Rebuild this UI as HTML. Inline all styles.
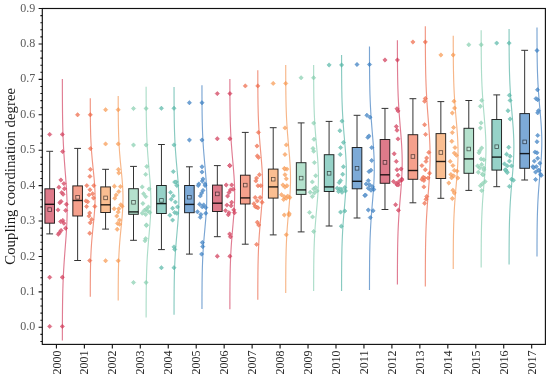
<!DOCTYPE html><html><head><meta charset="utf-8"><style>html,body{margin:0;padding:0;background:#fff;overflow:hidden}svg{display:block}</style></head><body><svg width="550" height="378" viewBox="0 0 550 378">
<rect width="550" height="378" fill="#fff"/>
<polyline points="62.36,78.90 62.37,83.26 62.37,87.62 62.38,91.98 62.40,96.34 62.42,100.70 62.45,105.06 62.48,109.42 62.53,113.78 62.59,118.14 62.67,122.50 62.76,126.86 62.88,131.22 63.02,135.58 63.19,139.94 63.39,144.30 63.61,148.66 63.87,153.02 64.15,157.38 64.46,161.74 64.78,166.10 65.12,170.46 65.46,174.82 65.79,179.18 66.11,183.54 66.40,187.90 66.65,192.26 66.86,196.62 67.02,200.98 67.12,205.34 67.15,209.70 67.12,214.06 67.02,218.42 66.86,222.78 66.65,227.14 66.40,231.50 66.11,235.86 65.79,240.22 65.46,244.58 65.12,248.94 64.78,253.30 64.46,257.66 64.15,262.02 63.87,266.38 63.61,270.74 63.39,275.10 63.19,279.46 63.02,283.82 62.88,288.18 62.76,292.54 62.67,296.90 62.59,301.26 62.53,305.62 62.48,309.98 62.45,314.34 62.42,318.70 62.40,323.06 62.38,327.42 62.37,331.78 62.37,336.14 62.36,340.50" fill="none" stroke="#d44a68" stroke-width="1.15" stroke-opacity="0.72"/>
<path d="M62.6 149.4L64.8 151.6L62.6 153.8L60.4 151.6ZM60.9 177.8L63.1 180.0L60.9 182.2L58.7 180.0ZM63.9 181.4L66.1 183.6L63.9 185.8L61.7 183.6ZM58.9 185.0L61.1 187.2L58.9 189.4L56.7 187.2ZM64.4 186.5L66.6 188.7L64.4 190.9L62.2 188.7ZM61.7 190.4L63.9 192.6L61.7 194.8L59.5 192.6ZM63.1 192.0L65.3 194.2L63.1 196.4L60.9 194.2ZM59.8 200.5L62.0 202.7L59.8 204.9L57.6 202.7ZM61.1 199.2L63.3 201.4L61.1 203.6L58.9 201.4ZM66.4 202.1L68.6 204.3L66.4 206.5L64.2 204.3ZM58.0 207.7L60.2 209.9L58.0 212.1L55.8 209.9ZM65.6 208.2L67.8 210.4L65.6 212.6L63.4 210.4ZM60.6 219.4L62.8 221.6L60.6 223.8L58.4 221.6ZM62.8 218.2L65.0 220.4L62.8 222.6L60.6 220.4ZM63.9 221.0L66.1 223.2L63.9 225.4L61.7 223.2ZM65.6 226.0L67.8 228.2L65.6 230.4L63.4 228.2ZM61.1 228.2L63.3 230.4L61.1 232.6L58.9 230.4ZM59.4 230.5L61.6 232.7L59.4 234.9L57.2 232.7ZM58.3 232.1L60.5 234.3L58.3 236.5L56.1 234.3ZM62.4 132.2L64.5 134.4L62.4 136.6L60.1 134.4ZM62.4 275.1L64.5 277.3L62.4 279.5L60.1 277.3ZM62.4 324.2L64.5 326.4L62.4 328.6L60.1 326.4Z" fill="#cf3050" fill-opacity="0.68" stroke="#cf3050" stroke-opacity="0.68" stroke-width="0.5"/>
<path d="M49.69 151.30V188.80M49.69 223.20V233.90M46.29 151.30H53.09M46.29 233.90H53.09" stroke="#333" stroke-width="1.0" fill="none"/>
<rect x="44.89" y="188.80" width="9.60" height="34.40" fill="#de7a8a" stroke="#000" stroke-opacity="0.82" stroke-width="1.0"/>
<path d="M44.89 204.30H54.49" stroke="#000" stroke-opacity="0.85" stroke-width="1.4"/>
<rect x="47.89" y="207.80" width="3.6" height="3.6" fill="#ffffff" fill-opacity="0.2" stroke="#000" stroke-opacity="0.62" stroke-width="0.8"/>
<path d="M49.7 132.2L51.9 134.4L49.7 136.6L47.5 134.4ZM49.7 275.1L51.9 277.3L49.7 279.5L47.5 277.3ZM49.7 324.2L51.9 326.4L49.7 328.6L47.5 326.4Z" fill="#cf3050" fill-opacity="0.68" stroke="#cf3050" stroke-opacity="0.68" stroke-width="0.5"/>
<polyline points="90.28,98.30 90.29,101.61 90.29,104.91 90.30,108.22 90.32,111.53 90.34,114.83 90.37,118.14 90.40,121.45 90.45,124.75 90.51,128.06 90.59,131.37 90.68,134.67 90.80,137.98 90.94,141.29 91.11,144.59 91.31,147.90 91.53,151.21 91.79,154.51 92.07,157.82 92.38,161.13 92.70,164.43 93.04,167.74 93.38,171.05 93.71,174.35 94.03,177.66 94.32,180.97 94.57,184.27 94.78,187.58 94.94,190.89 95.04,194.19 95.07,197.50 95.04,200.81 94.94,204.11 94.78,207.42 94.57,210.73 94.32,214.03 94.03,217.34 93.71,220.65 93.38,223.95 93.04,227.26 92.70,230.57 92.38,233.87 92.07,237.18 91.79,240.49 91.53,243.79 91.31,247.10 91.11,250.41 90.94,253.71 90.80,257.02 90.68,260.33 90.59,263.63 90.51,266.94 90.45,270.25 90.40,273.55 90.37,276.86 90.34,280.17 90.32,283.47 90.30,286.78 90.29,290.09 90.29,293.39 90.28,296.70" fill="none" stroke="#ec6c50" stroke-width="1.15" stroke-opacity="0.72"/>
<path d="M90.4 146.4L92.6 148.6L90.4 150.8L88.2 148.6ZM90.4 167.2L92.6 169.4L90.4 171.6L88.2 169.4ZM89.9 174.2L92.1 176.4L89.9 178.6L87.7 176.4ZM86.8 183.4L89.0 185.6L86.8 187.8L84.6 185.6ZM93.8 183.4L96.0 185.6L93.8 187.8L91.6 185.6ZM90.0 187.6L92.2 189.8L90.0 192.0L87.8 189.8ZM92.6 191.5L94.8 193.7L92.6 195.9L90.4 193.7ZM89.0 192.7L91.2 194.9L89.0 197.1L86.8 194.9ZM93.5 195.8L95.7 198.0L93.5 200.2L91.3 198.0ZM85.9 198.7L88.1 200.9L85.9 203.1L83.7 200.9ZM87.7 199.6L89.9 201.8L87.7 204.0L85.5 201.8ZM94.8 204.2L97.0 206.4L94.8 208.6L92.6 206.4ZM86.6 204.3L88.8 206.5L86.6 208.7L84.4 206.5ZM89.7 210.8L91.9 213.0L89.7 215.2L87.5 213.0ZM89.0 213.9L91.2 216.1L89.0 218.3L86.8 216.1ZM91.7 217.2L93.9 219.4L91.7 221.6L89.5 219.4ZM90.2 220.5L92.4 222.7L90.2 224.9L88.0 222.7ZM89.7 231.0L91.9 233.2L89.7 235.4L87.5 233.2ZM89.7 258.4L91.9 260.6L89.7 262.8L87.5 260.6ZM90.3 112.6L92.5 114.8L90.3 117.0L88.1 114.8Z" fill="#ee613f" fill-opacity="0.68" stroke="#ee613f" stroke-opacity="0.68" stroke-width="0.5"/>
<path d="M77.63 148.40V185.90M77.63 216.00V260.50M74.23 148.40H81.03M74.23 260.50H81.03" stroke="#333" stroke-width="1.0" fill="none"/>
<rect x="72.83" y="185.90" width="9.60" height="30.10" fill="#f5a08c" stroke="#000" stroke-opacity="0.82" stroke-width="1.0"/>
<path d="M72.83 200.50H82.43" stroke="#000" stroke-opacity="0.85" stroke-width="1.4"/>
<rect x="75.83" y="195.50" width="3.6" height="3.6" fill="#ffffff" fill-opacity="0.2" stroke="#000" stroke-opacity="0.62" stroke-width="0.8"/>
<path d="M77.6 112.6L79.8 114.8L77.6 117.0L75.4 114.8Z" fill="#ee613f" fill-opacity="0.68" stroke="#ee613f" stroke-opacity="0.68" stroke-width="0.5"/>
<polyline points="118.20,96.00 118.21,99.41 118.21,102.82 118.22,106.22 118.24,109.63 118.26,113.04 118.29,116.45 118.32,119.86 118.37,123.27 118.43,126.67 118.51,130.08 118.60,133.49 118.72,136.90 118.86,140.31 119.03,143.72 119.23,147.12 119.45,150.53 119.71,153.94 119.99,157.35 120.30,160.76 120.62,164.17 120.96,167.57 121.30,170.98 121.63,174.39 121.95,177.80 122.24,181.21 122.49,184.62 122.70,188.03 122.86,191.43 122.96,194.84 122.99,198.25 122.96,201.66 122.86,205.07 122.70,208.47 122.49,211.88 122.24,215.29 121.95,218.70 121.63,222.11 121.30,225.52 120.96,228.93 120.62,232.33 120.30,235.74 119.99,239.15 119.71,242.56 119.45,245.97 119.23,249.38 119.03,252.78 118.86,256.19 118.72,259.60 118.60,263.01 118.51,266.42 118.43,269.82 118.37,273.23 118.32,276.64 118.29,280.05 118.26,283.46 118.24,286.87 118.22,290.27 118.21,293.68 118.21,297.09 118.20,300.50" fill="none" stroke="#f49a5a" stroke-width="1.15" stroke-opacity="0.72"/>
<path d="M118.4 167.2L120.6 169.4L118.4 171.6L116.2 169.4ZM118.8 170.8L121.0 173.0L118.8 175.2L116.6 173.0ZM114.4 184.0L116.6 186.2L114.4 188.4L112.2 186.2ZM120.4 184.4L122.6 186.6L120.4 188.8L118.2 186.6ZM118.8 189.4L121.0 191.6L118.8 193.8L116.6 191.6ZM116.2 192.7L118.4 194.9L116.2 197.1L114.0 194.9ZM114.8 196.0L117.0 198.2L114.8 200.4L112.6 198.2ZM120.8 202.6L123.0 204.8L120.8 207.0L118.6 204.8ZM122.1 204.0L124.3 206.2L122.1 208.4L119.9 206.2ZM114.2 206.6L116.4 208.8L114.2 211.0L112.0 208.8ZM118.8 206.6L121.0 208.8L118.8 211.0L116.6 208.8ZM118.2 209.9L120.4 212.1L118.2 214.3L116.0 212.1ZM116.8 213.9L119.0 216.1L116.8 218.3L114.6 216.1ZM119.5 217.9L121.7 220.1L119.5 222.3L117.3 220.1ZM117.5 221.2L119.7 223.4L117.5 225.6L115.3 223.4ZM119.5 222.0L121.7 224.2L119.5 226.4L117.3 224.2ZM117.2 227.1L119.4 229.3L117.2 231.5L115.0 229.3ZM118.2 107.5L120.4 109.7L118.2 111.9L116.0 109.7ZM118.2 141.7L120.4 143.9L118.2 146.1L116.0 143.9ZM118.2 258.5L120.4 260.7L118.2 262.9L116.0 260.7Z" fill="#f79348" fill-opacity="0.68" stroke="#f79348" stroke-opacity="0.68" stroke-width="0.5"/>
<path d="M105.57 169.30V186.90M105.57 212.50V229.10M102.17 169.30H108.97M102.17 229.10H108.97" stroke="#333" stroke-width="1.0" fill="none"/>
<rect x="100.77" y="186.90" width="9.60" height="25.60" fill="#fabe91" stroke="#000" stroke-opacity="0.82" stroke-width="1.0"/>
<path d="M100.77 204.80H110.37" stroke="#000" stroke-opacity="0.85" stroke-width="1.4"/>
<rect x="103.77" y="196.10" width="3.6" height="3.6" fill="#ffffff" fill-opacity="0.2" stroke="#000" stroke-opacity="0.62" stroke-width="0.8"/>
<path d="M105.6 107.5L107.8 109.7L105.6 111.9L103.4 109.7ZM105.6 141.7L107.8 143.9L105.6 146.1L103.4 143.9ZM105.6 258.5L107.8 260.7L105.6 262.9L103.4 260.7Z" fill="#f79348" fill-opacity="0.68" stroke="#f79348" stroke-opacity="0.68" stroke-width="0.5"/>
<polyline points="146.12,86.80 146.13,90.64 146.13,94.49 146.14,98.33 146.16,102.17 146.18,106.02 146.21,109.86 146.24,113.70 146.29,117.55 146.35,121.39 146.43,125.23 146.52,129.08 146.64,132.92 146.78,136.76 146.95,140.61 147.15,144.45 147.37,148.29 147.63,152.14 147.91,155.98 148.22,159.82 148.54,163.67 148.88,167.51 149.22,171.35 149.55,175.20 149.87,179.04 150.16,182.88 150.41,186.73 150.62,190.57 150.78,194.41 150.88,198.26 150.91,202.10 150.88,205.94 150.78,209.79 150.62,213.63 150.41,217.47 150.16,221.32 149.87,225.16 149.55,229.00 149.22,232.85 148.88,236.69 148.54,240.53 148.22,244.38 147.91,248.22 147.63,252.06 147.37,255.91 147.15,259.75 146.95,263.59 146.78,267.44 146.64,271.28 146.52,275.12 146.43,278.97 146.35,282.81 146.29,286.65 146.24,290.50 146.21,294.34 146.18,298.18 146.16,302.03 146.14,305.87 146.13,309.71 146.13,313.56 146.12,317.40" fill="none" stroke="#8cd0b4" stroke-width="1.15" stroke-opacity="0.72"/>
<path d="M146.8 164.3L149.0 166.5L146.8 168.7L144.6 166.5ZM145.7 172.2L147.9 174.4L145.7 176.6L143.5 174.4ZM142.2 184.7L144.4 186.9L142.2 189.1L140.0 186.9ZM149.1 186.8L151.3 189.0L149.1 191.2L146.9 189.0ZM143.6 191.6L145.8 193.8L143.6 196.0L141.4 193.8ZM145.7 194.4L147.9 196.6L145.7 198.8L143.5 196.6ZM142.9 201.3L145.1 203.5L142.9 205.7L140.7 203.5ZM148.4 204.7L150.6 206.9L148.4 209.1L146.2 206.9ZM146.4 206.8L148.6 209.0L146.4 211.2L144.2 209.0ZM144.3 208.2L146.5 210.4L144.3 212.6L142.1 210.4ZM147.7 208.9L149.9 211.1L147.7 213.3L145.5 211.1ZM142.2 211.0L144.4 213.2L142.2 215.4L140.0 213.2ZM149.8 210.3L152.0 212.5L149.8 214.7L147.6 212.5ZM145.7 212.3L147.9 214.5L145.7 216.7L143.5 214.5ZM146.4 222.7L148.6 224.9L146.4 227.1L144.2 224.9ZM146.4 223.3L148.6 225.5L146.4 227.7L144.2 225.5ZM145.7 236.4L147.9 238.6L145.7 240.8L143.5 238.6ZM145.0 238.5L147.2 240.7L145.0 242.9L142.8 240.7ZM146.1 106.3L148.3 108.5L146.1 110.7L143.9 108.5ZM146.1 142.8L148.3 145.0L146.1 147.2L143.9 145.0ZM146.1 280.3L148.3 282.5L146.1 284.7L143.9 282.5Z" fill="#82cdac" fill-opacity="0.68" stroke="#82cdac" stroke-opacity="0.68" stroke-width="0.5"/>
<path d="M133.51 166.40V188.70M133.51 214.30V240.30M130.11 166.40H136.91M130.11 240.30H136.91" stroke="#333" stroke-width="1.0" fill="none"/>
<rect x="128.71" y="188.70" width="9.60" height="25.60" fill="#b4e1cd" stroke="#000" stroke-opacity="0.82" stroke-width="1.0"/>
<path d="M128.71 211.90H138.31" stroke="#000" stroke-opacity="0.85" stroke-width="1.4"/>
<rect x="131.71" y="200.50" width="3.6" height="3.6" fill="#ffffff" fill-opacity="0.2" stroke="#000" stroke-opacity="0.62" stroke-width="0.8"/>
<path d="M133.5 106.3L135.7 108.5L133.5 110.7L131.3 108.5ZM133.5 142.8L135.7 145.0L133.5 147.2L131.3 145.0ZM133.5 280.3L135.7 282.5L133.5 284.7L131.3 282.5Z" fill="#82cdac" fill-opacity="0.68" stroke="#82cdac" stroke-opacity="0.68" stroke-width="0.5"/>
<polyline points="174.04,87.00 174.05,90.80 174.05,94.59 174.06,98.38 174.08,102.18 174.10,105.97 174.13,109.77 174.16,113.56 174.21,117.36 174.27,121.16 174.35,124.95 174.44,128.75 174.56,132.54 174.70,136.34 174.87,140.13 175.07,143.93 175.29,147.72 175.55,151.51 175.83,155.31 176.14,159.11 176.46,162.90 176.80,166.69 177.14,170.49 177.47,174.28 177.79,178.08 178.08,181.88 178.33,185.67 178.54,189.46 178.70,193.26 178.80,197.06 178.83,200.85 178.80,204.64 178.70,208.44 178.54,212.23 178.33,216.03 178.08,219.82 177.79,223.62 177.47,227.41 177.14,231.21 176.80,235.00 176.46,238.80 176.14,242.59 175.83,246.39 175.55,250.19 175.29,253.98 175.07,257.77 174.87,261.57 174.70,265.37 174.56,269.16 174.44,272.95 174.35,276.75 174.27,280.54 174.21,284.34 174.16,288.13 174.13,291.93 174.10,295.73 174.08,299.52 174.06,303.31 174.05,307.11 174.05,310.90 174.04,314.70" fill="none" stroke="#5ab6a8" stroke-width="1.15" stroke-opacity="0.72"/>
<path d="M174.0 142.7L176.2 144.9L174.0 147.1L171.8 144.9ZM173.3 169.4L175.5 171.6L173.3 173.8L171.1 171.6ZM176.1 179.8L178.3 182.0L176.1 184.2L173.9 182.0ZM174.7 179.9L176.9 182.1L174.7 184.3L172.5 182.1ZM176.8 183.3L179.0 185.5L176.8 187.7L174.6 185.5ZM170.5 190.2L172.7 192.4L170.5 194.6L168.3 192.4ZM173.3 193.7L175.5 195.9L173.3 198.1L171.1 195.9ZM171.2 197.1L173.4 199.3L171.2 201.5L169.0 199.3ZM175.4 199.9L177.6 202.1L175.4 204.3L173.2 202.1ZM177.5 204.7L179.7 206.9L177.5 209.1L175.3 206.9ZM172.6 206.1L174.8 208.3L172.6 210.5L170.4 208.3ZM174.7 210.3L176.9 212.5L174.7 214.7L172.5 212.5ZM176.8 211.0L179.0 213.2L176.8 215.4L174.6 213.2ZM169.9 213.0L172.1 215.2L169.9 217.4L167.7 215.2ZM172.6 217.9L174.8 220.1L172.6 222.3L170.4 220.1ZM174.0 244.7L176.2 246.9L174.0 249.1L171.8 246.9ZM174.7 247.2L176.9 249.4L174.7 251.6L172.5 249.4ZM174.0 106.1L176.2 108.3L174.0 110.5L171.8 108.3ZM174.0 265.5L176.2 267.7L174.0 269.9L171.8 267.7Z" fill="#50b4a3" fill-opacity="0.68" stroke="#50b4a3" stroke-opacity="0.68" stroke-width="0.5"/>
<path d="M161.45 144.50V185.50M161.45 213.50V249.60M158.05 144.50H164.85M158.05 249.60H164.85" stroke="#333" stroke-width="1.0" fill="none"/>
<rect x="156.65" y="185.50" width="9.60" height="28.00" fill="#96d2c8" stroke="#000" stroke-opacity="0.82" stroke-width="1.0"/>
<path d="M156.65 203.60H166.25" stroke="#000" stroke-opacity="0.85" stroke-width="1.4"/>
<rect x="159.65" y="198.60" width="3.6" height="3.6" fill="#ffffff" fill-opacity="0.2" stroke="#000" stroke-opacity="0.62" stroke-width="0.8"/>
<path d="M161.4 106.1L163.6 108.3L161.4 110.5L159.2 108.3ZM161.4 265.5L163.6 267.7L161.4 269.9L159.2 267.7Z" fill="#50b4a3" fill-opacity="0.68" stroke="#50b4a3" stroke-opacity="0.68" stroke-width="0.5"/>
<polyline points="201.96,85.20 201.97,88.93 201.97,92.66 201.98,96.39 202.00,100.11 202.02,103.84 202.05,107.57 202.08,111.30 202.13,115.03 202.19,118.75 202.27,122.48 202.36,126.21 202.48,129.94 202.62,133.67 202.79,137.40 202.99,141.12 203.21,144.85 203.47,148.58 203.75,152.31 204.06,156.04 204.38,159.77 204.72,163.50 205.06,167.22 205.39,170.95 205.71,174.68 206.00,178.41 206.25,182.14 206.46,185.87 206.62,189.59 206.72,193.32 206.75,197.05 206.72,200.78 206.62,204.51 206.46,208.24 206.25,211.96 206.00,215.69 205.71,219.42 205.39,223.15 205.06,226.88 204.72,230.61 204.38,234.33 204.06,238.06 203.75,241.79 203.47,245.52 203.21,249.25 202.99,252.98 202.79,256.70 202.62,260.43 202.48,264.16 202.36,267.89 202.27,271.62 202.19,275.34 202.13,279.07 202.08,282.80 202.05,286.53 202.02,290.26 202.00,293.99 201.98,297.71 201.97,301.44 201.97,305.17 201.96,308.90" fill="none" stroke="#4682c2" stroke-width="1.15" stroke-opacity="0.72"/>
<path d="M202.0 164.6L204.2 166.8L202.0 169.0L199.8 166.8ZM202.0 169.8L204.2 172.0L202.0 174.2L199.8 172.0ZM203.0 176.8L205.2 179.0L203.0 181.2L200.8 179.0ZM198.9 181.8L201.1 184.0L198.9 186.2L196.7 184.0ZM205.0 181.8L207.2 184.0L205.0 186.2L202.8 184.0ZM202.3 178.9L204.5 181.1L202.3 183.3L200.1 181.1ZM198.2 183.3L200.4 185.5L198.2 187.7L196.0 185.5ZM205.1 183.3L207.3 185.5L205.1 187.7L202.9 185.5ZM203.0 188.2L205.2 190.4L203.0 192.6L200.8 190.4ZM201.6 190.9L203.8 193.1L201.6 195.3L199.4 193.1ZM200.3 193.7L202.5 195.9L200.3 198.1L198.1 195.9ZM199.6 202.0L201.8 204.2L199.6 206.4L197.4 204.2ZM203.7 202.7L205.9 204.9L203.7 207.1L201.5 204.9ZM205.8 205.4L208.0 207.6L205.8 209.8L203.6 207.6ZM202.3 204.7L204.5 206.9L202.3 209.1L200.1 206.9ZM197.5 209.6L199.7 211.8L197.5 214.0L195.3 211.8ZM200.9 212.3L203.1 214.5L200.9 216.7L198.7 214.5ZM205.8 211.0L208.0 213.2L205.8 215.4L203.6 213.2ZM200.3 215.1L202.5 217.3L200.3 219.5L198.1 217.3ZM202.3 240.3L204.5 242.5L202.3 244.7L200.1 242.5ZM202.7 244.4L204.9 246.6L202.7 248.8L200.5 246.6ZM201.6 251.9L203.8 254.1L201.6 256.3L199.4 254.1ZM202.0 100.5L204.2 102.7L202.0 104.9L199.8 102.7ZM202.0 137.8L204.2 140.0L202.0 142.2L199.8 140.0Z" fill="#2f77be" fill-opacity="0.68" stroke="#2f77be" stroke-opacity="0.68" stroke-width="0.5"/>
<path d="M189.39 166.80V185.50M189.39 212.70V254.10M185.99 166.80H192.79M185.99 254.10H192.79" stroke="#333" stroke-width="1.0" fill="none"/>
<rect x="184.59" y="185.50" width="9.60" height="27.20" fill="#7daad7" stroke="#000" stroke-opacity="0.82" stroke-width="1.0"/>
<path d="M184.59 204.40H194.19" stroke="#000" stroke-opacity="0.85" stroke-width="1.4"/>
<rect x="187.59" y="195.40" width="3.6" height="3.6" fill="#ffffff" fill-opacity="0.2" stroke="#000" stroke-opacity="0.62" stroke-width="0.8"/>
<path d="M189.4 100.5L191.6 102.7L189.4 104.9L187.2 102.7ZM189.4 137.8L191.6 140.0L189.4 142.2L187.2 140.0Z" fill="#2f77be" fill-opacity="0.68" stroke="#2f77be" stroke-opacity="0.68" stroke-width="0.5"/>
<polyline points="229.88,78.90 229.89,82.74 229.89,86.58 229.90,90.42 229.92,94.26 229.94,98.10 229.97,101.94 230.00,105.78 230.05,109.62 230.11,113.46 230.19,117.30 230.28,121.14 230.40,124.98 230.54,128.82 230.71,132.66 230.91,136.50 231.13,140.34 231.39,144.18 231.67,148.02 231.98,151.86 232.30,155.70 232.64,159.54 232.98,163.38 233.31,167.22 233.63,171.06 233.92,174.90 234.17,178.74 234.38,182.58 234.54,186.42 234.64,190.26 234.67,194.10 234.64,197.94 234.54,201.78 234.38,205.62 234.17,209.46 233.92,213.30 233.63,217.14 233.31,220.98 232.98,224.82 232.64,228.66 232.30,232.50 231.98,236.34 231.67,240.18 231.39,244.02 231.13,247.86 230.91,251.70 230.71,255.54 230.54,259.38 230.40,263.22 230.28,267.06 230.19,270.90 230.11,274.74 230.05,278.58 230.00,282.42 229.97,286.26 229.94,290.10 229.92,293.94 229.90,297.78 229.89,301.62 229.89,305.46 229.88,309.30" fill="none" stroke="#d44a68" stroke-width="1.15" stroke-opacity="0.72"/>
<path d="M229.7 163.3L231.9 165.5L229.7 167.7L227.5 165.5ZM229.8 163.5L232.0 165.7L229.8 167.9L227.6 165.7ZM226.2 182.8L228.4 185.0L226.2 187.2L224.0 185.0ZM231.7 182.8L233.9 185.0L231.7 187.2L229.5 185.0ZM230.4 187.7L232.6 189.9L230.4 192.1L228.2 189.9ZM233.1 187.0L235.3 189.2L233.1 191.4L230.9 189.2ZM229.0 190.4L231.2 192.6L229.0 194.8L226.8 192.6ZM227.6 193.9L229.8 196.1L227.6 198.3L225.4 196.1ZM231.7 200.1L233.9 202.3L231.7 204.5L229.5 202.3ZM226.9 202.9L229.1 205.1L226.9 207.3L224.7 205.1ZM231.1 203.6L233.3 205.8L231.1 208.0L228.9 205.8ZM225.5 208.4L227.7 210.6L225.5 212.8L223.3 210.6ZM233.8 207.7L236.0 209.9L233.8 212.1L231.6 209.9ZM229.0 210.5L231.2 212.7L229.0 214.9L226.8 212.7ZM234.5 210.5L236.7 212.7L234.5 214.9L232.3 212.7ZM228.3 212.5L230.5 214.7L228.3 216.9L226.1 214.7ZM229.7 231.8L231.9 234.0L229.7 236.2L227.5 234.0ZM230.4 234.6L232.6 236.8L230.4 239.0L228.2 236.8ZM229.9 91.4L232.1 93.6L229.9 95.8L227.7 93.6ZM229.9 136.5L232.1 138.7L229.9 140.9L227.7 138.7ZM229.9 254.0L232.1 256.2L229.9 258.4L227.7 256.2Z" fill="#cf3050" fill-opacity="0.68" stroke="#cf3050" stroke-opacity="0.68" stroke-width="0.5"/>
<path d="M217.33 165.60V185.10M217.33 211.50V236.70M213.93 165.60H220.73M213.93 236.70H220.73" stroke="#333" stroke-width="1.0" fill="none"/>
<rect x="212.53" y="185.10" width="9.60" height="26.40" fill="#de7a8a" stroke="#000" stroke-opacity="0.82" stroke-width="1.0"/>
<path d="M212.53 203.20H222.13" stroke="#000" stroke-opacity="0.85" stroke-width="1.4"/>
<rect x="215.53" y="192.10" width="3.6" height="3.6" fill="#ffffff" fill-opacity="0.2" stroke="#000" stroke-opacity="0.62" stroke-width="0.8"/>
<path d="M217.3 91.4L219.5 93.6L217.3 95.8L215.1 93.6ZM217.3 136.5L219.5 138.7L217.3 140.9L215.1 138.7ZM217.3 254.0L219.5 256.2L217.3 258.4L215.1 256.2Z" fill="#cf3050" fill-opacity="0.68" stroke="#cf3050" stroke-opacity="0.68" stroke-width="0.5"/>
<polyline points="257.80,70.30 257.81,74.12 257.81,77.95 257.82,81.77 257.84,85.60 257.86,89.42 257.89,93.25 257.92,97.07 257.97,100.90 258.03,104.72 258.11,108.55 258.20,112.38 258.32,116.20 258.46,120.03 258.63,123.85 258.83,127.67 259.05,131.50 259.31,135.32 259.59,139.15 259.90,142.97 260.22,146.80 260.56,150.62 260.90,154.45 261.23,158.27 261.55,162.10 261.84,165.93 262.09,169.75 262.30,173.57 262.46,177.40 262.56,181.22 262.59,185.05 262.56,188.88 262.46,192.70 262.30,196.52 262.09,200.35 261.84,204.18 261.55,208.00 261.23,211.82 260.90,215.65 260.56,219.48 260.22,223.30 259.90,227.12 259.59,230.95 259.31,234.77 259.05,238.60 258.83,242.43 258.63,246.25 258.46,250.07 258.32,253.90 258.20,257.73 258.11,261.55 258.03,265.38 257.97,269.20 257.92,273.02 257.89,276.85 257.86,280.68 257.84,284.50 257.82,288.32 257.81,292.15 257.81,295.98 257.80,299.80" fill="none" stroke="#ec6c50" stroke-width="1.15" stroke-opacity="0.72"/>
<path d="M258.4 130.2L260.6 132.4L258.4 134.6L256.2 132.4ZM257.0 143.8L259.2 146.0L257.0 148.2L254.8 146.0ZM257.3 153.7L259.5 155.9L257.3 158.1L255.1 155.9ZM258.5 155.3L260.7 157.5L258.5 159.7L256.3 157.5ZM259.4 172.5L261.6 174.7L259.4 176.9L257.2 174.7ZM256.6 175.9L258.8 178.1L256.6 180.3L254.4 178.1ZM255.9 178.7L258.1 180.9L255.9 183.1L253.7 180.9ZM258.0 183.5L260.2 185.7L258.0 187.9L255.8 185.7ZM260.8 183.5L263.0 185.7L260.8 187.9L258.6 185.7ZM255.2 195.3L257.4 197.5L255.2 199.7L253.0 197.5ZM260.1 195.3L262.3 197.5L260.1 199.7L257.9 197.5ZM257.3 198.7L259.5 200.9L257.3 203.1L255.1 200.9ZM262.1 200.1L264.3 202.3L262.1 204.5L259.9 202.3ZM253.9 201.5L256.1 203.7L253.9 205.9L251.7 203.7ZM255.2 204.3L257.4 206.5L255.2 208.7L253.0 206.5ZM258.0 205.6L260.2 207.8L258.0 210.0L255.8 207.8ZM256.6 204.9L258.8 207.1L256.6 209.3L254.4 207.1ZM257.3 220.1L259.5 222.3L257.3 224.5L255.1 222.3ZM258.7 222.8L260.9 225.0L258.7 227.2L256.5 225.0ZM256.6 242.2L258.8 244.4L256.6 246.6L254.4 244.4ZM257.8 83.7L260.0 85.9L257.8 88.1L255.6 85.9Z" fill="#ee613f" fill-opacity="0.68" stroke="#ee613f" stroke-opacity="0.68" stroke-width="0.5"/>
<path d="M245.27 132.40V175.20M245.27 204.00V244.20M241.87 132.40H248.67M241.87 244.20H248.67" stroke="#333" stroke-width="1.0" fill="none"/>
<rect x="240.47" y="175.20" width="9.60" height="28.80" fill="#f5a08c" stroke="#000" stroke-opacity="0.82" stroke-width="1.0"/>
<path d="M240.47 197.90H250.07" stroke="#000" stroke-opacity="0.85" stroke-width="1.4"/>
<rect x="243.47" y="183.30" width="3.6" height="3.6" fill="#ffffff" fill-opacity="0.2" stroke="#000" stroke-opacity="0.62" stroke-width="0.8"/>
<path d="M245.3 83.7L247.5 85.9L245.3 88.1L243.1 85.9Z" fill="#ee613f" fill-opacity="0.68" stroke="#ee613f" stroke-opacity="0.68" stroke-width="0.5"/>
<polyline points="285.72,65.00 285.73,68.80 285.73,72.60 285.74,76.39 285.76,80.19 285.78,83.99 285.81,87.79 285.84,91.59 285.89,95.39 285.95,99.19 286.03,102.98 286.12,106.78 286.24,110.58 286.38,114.38 286.55,118.18 286.75,121.97 286.97,125.77 287.23,129.57 287.51,133.37 287.82,137.17 288.14,140.97 288.48,144.76 288.82,148.56 289.15,152.36 289.47,156.16 289.76,159.96 290.01,163.76 290.22,167.56 290.38,171.35 290.48,175.15 290.51,178.95 290.48,182.75 290.38,186.55 290.22,190.34 290.01,194.14 289.76,197.94 289.47,201.74 289.15,205.54 288.82,209.34 288.48,213.13 288.14,216.93 287.82,220.73 287.51,224.53 287.23,228.33 286.97,232.13 286.75,235.92 286.55,239.72 286.38,243.52 286.24,247.32 286.12,251.12 286.03,254.92 285.95,258.72 285.89,262.51 285.84,266.31 285.81,270.11 285.78,273.91 285.76,277.71 285.74,281.50 285.73,285.30 285.73,289.10 285.72,292.90" fill="none" stroke="#f49a5a" stroke-width="1.15" stroke-opacity="0.72"/>
<path d="M285.0 125.7L287.2 127.9L285.0 130.1L282.8 127.9ZM286.3 142.7L288.5 144.9L286.3 147.1L284.1 144.9ZM285.0 152.3L287.2 154.5L285.0 156.7L282.8 154.5ZM285.0 166.8L287.2 169.0L285.0 171.2L282.8 169.0ZM284.3 166.3L286.5 168.5L284.3 170.7L282.1 168.5ZM287.0 166.9L289.2 169.1L287.0 171.3L284.8 169.1ZM285.0 172.5L287.2 174.7L285.0 176.9L282.8 174.7ZM286.3 176.6L288.5 178.8L286.3 181.0L284.1 178.8ZM282.9 182.8L285.1 185.0L282.9 187.2L280.7 185.0ZM287.0 183.5L289.2 185.7L287.0 187.9L284.8 185.7ZM285.0 184.9L287.2 187.1L285.0 189.3L282.8 187.1ZM281.5 192.5L283.7 194.7L281.5 196.9L279.3 194.7ZM284.3 194.6L286.5 196.8L284.3 199.0L282.1 196.8ZM287.7 193.9L289.9 196.1L287.7 198.3L285.5 196.1ZM289.8 195.3L292.0 197.5L289.8 199.7L287.6 197.5ZM283.6 197.3L285.8 199.5L283.6 201.7L281.4 199.5ZM286.3 196.0L288.5 198.2L286.3 200.4L284.1 198.2ZM289.1 211.2L291.3 213.4L289.1 215.6L286.9 213.4ZM284.3 212.8L286.5 215.0L284.3 217.2L282.1 215.0ZM289.1 212.8L291.3 215.0L289.1 217.2L286.9 215.0ZM286.3 232.5L288.5 234.7L286.3 236.9L284.1 234.7ZM285.7 81.2L287.9 83.4L285.7 85.6L283.5 83.4Z" fill="#f79348" fill-opacity="0.68" stroke="#f79348" stroke-opacity="0.68" stroke-width="0.5"/>
<path d="M273.21 127.70V169.10M273.21 198.10V234.90M269.81 127.70H276.61M269.81 234.90H276.61" stroke="#333" stroke-width="1.0" fill="none"/>
<rect x="268.41" y="169.10" width="9.60" height="29.00" fill="#fabe91" stroke="#000" stroke-opacity="0.82" stroke-width="1.0"/>
<path d="M268.41 186.90H278.01" stroke="#000" stroke-opacity="0.85" stroke-width="1.4"/>
<rect x="271.41" y="177.40" width="3.6" height="3.6" fill="#ffffff" fill-opacity="0.2" stroke="#000" stroke-opacity="0.62" stroke-width="0.8"/>
<path d="M273.2 81.2L275.4 83.4L273.2 85.6L271.0 83.4Z" fill="#f79348" fill-opacity="0.68" stroke="#f79348" stroke-opacity="0.68" stroke-width="0.5"/>
<polyline points="313.64,65.00 313.65,68.77 313.65,72.54 313.66,76.31 313.68,80.07 313.70,83.84 313.73,87.61 313.76,91.38 313.81,95.15 313.87,98.91 313.95,102.68 314.04,106.45 314.16,110.22 314.30,113.99 314.47,117.76 314.67,121.53 314.89,125.29 315.15,129.06 315.43,132.83 315.74,136.60 316.06,140.37 316.40,144.13 316.74,147.90 317.07,151.67 317.39,155.44 317.68,159.21 317.93,162.98 318.14,166.75 318.30,170.51 318.40,174.28 318.43,178.05 318.40,181.82 318.30,185.59 318.14,189.36 317.93,193.12 317.68,196.89 317.39,200.66 317.07,204.43 316.74,208.20 316.40,211.97 316.06,215.73 315.74,219.50 315.43,223.27 315.15,227.04 314.89,230.81 314.67,234.58 314.47,238.34 314.30,242.11 314.16,245.88 314.04,249.65 313.95,253.42 313.87,257.19 313.81,260.95 313.76,264.72 313.73,268.49 313.70,272.26 313.68,276.03 313.66,279.80 313.65,283.56 313.65,287.33 313.64,291.10" fill="none" stroke="#8cd0b4" stroke-width="1.15" stroke-opacity="0.72"/>
<path d="M313.7 120.9L315.9 123.1L313.7 125.3L311.5 123.1ZM314.0 137.1L316.2 139.3L314.0 141.5L311.8 139.3ZM313.0 146.2L315.2 148.4L313.0 150.6L310.8 148.4ZM313.7 149.0L315.9 151.2L313.7 153.4L311.5 151.2ZM314.4 160.4L316.6 162.6L314.4 164.8L312.2 162.6ZM315.7 173.5L317.9 175.7L315.7 177.9L313.5 175.7ZM312.3 179.7L314.5 181.9L312.3 184.1L310.1 181.9ZM315.7 185.3L317.9 187.5L315.7 189.7L313.5 187.5ZM313.7 186.7L315.9 188.9L313.7 191.1L311.5 188.9ZM310.2 190.1L312.4 192.3L310.2 194.5L308.0 192.3ZM317.1 188.7L319.3 190.9L317.1 193.1L314.9 190.9ZM314.4 190.8L316.6 193.0L314.4 195.2L312.2 193.0ZM312.3 194.3L314.5 196.5L312.3 198.7L310.1 196.5ZM309.5 210.2L311.7 212.4L309.5 214.6L307.3 212.4ZM312.6 214.7L314.8 216.9L312.6 219.1L310.4 216.9ZM313.7 229.3L315.9 231.5L313.7 233.7L311.5 231.5ZM313.6 75.6L315.8 77.8L313.6 80.0L311.4 77.8Z" fill="#82cdac" fill-opacity="0.68" stroke="#82cdac" stroke-opacity="0.68" stroke-width="0.5"/>
<path d="M301.15 122.90V162.70M301.15 194.40V231.90M297.75 122.90H304.55M297.75 231.90H304.55" stroke="#333" stroke-width="1.0" fill="none"/>
<rect x="296.35" y="162.70" width="9.60" height="31.70" fill="#b4e1cd" stroke="#000" stroke-opacity="0.82" stroke-width="1.0"/>
<path d="M296.35 189.90H305.95" stroke="#000" stroke-opacity="0.85" stroke-width="1.4"/>
<rect x="299.35" y="176.30" width="3.6" height="3.6" fill="#ffffff" fill-opacity="0.2" stroke="#000" stroke-opacity="0.62" stroke-width="0.8"/>
<path d="M301.1 75.6L303.3 77.8L301.1 80.0L298.9 77.8Z" fill="#82cdac" fill-opacity="0.68" stroke="#82cdac" stroke-opacity="0.68" stroke-width="0.5"/>
<polyline points="341.56,54.90 341.57,58.84 341.57,62.77 341.58,66.71 341.60,70.65 341.62,74.58 341.65,78.52 341.68,82.46 341.73,86.39 341.79,90.33 341.87,94.27 341.96,98.20 342.08,102.14 342.22,106.08 342.39,110.01 342.59,113.95 342.81,117.89 343.07,121.82 343.35,125.76 343.66,129.70 343.98,133.63 344.32,137.57 344.66,141.51 344.99,145.44 345.31,149.38 345.60,153.32 345.85,157.25 346.06,161.19 346.22,165.13 346.32,169.06 346.35,173.00 346.32,176.94 346.22,180.87 346.06,184.81 345.85,188.75 345.60,192.68 345.31,196.62 344.99,200.56 344.66,204.49 344.32,208.43 343.98,212.37 343.66,216.30 343.35,220.24 343.07,224.18 342.81,228.11 342.59,232.05 342.39,235.99 342.22,239.92 342.08,243.86 341.96,247.80 341.87,251.73 341.79,255.67 341.73,259.61 341.68,263.54 341.65,267.48 341.62,271.42 341.60,275.35 341.58,279.29 341.57,283.23 341.57,287.16 341.56,291.10" fill="none" stroke="#5ab6a8" stroke-width="1.15" stroke-opacity="0.72"/>
<path d="M342.0 118.9L344.2 121.1L342.0 123.3L339.8 121.1ZM339.9 128.5L342.1 130.7L339.9 132.9L337.7 130.7ZM343.4 140.3L345.6 142.5L343.4 144.7L341.2 142.5ZM340.6 145.4L342.8 147.6L340.6 149.8L338.4 147.6ZM340.2 152.3L342.4 154.5L340.2 156.7L338.0 154.5ZM343.4 164.5L345.6 166.7L343.4 168.9L341.2 166.7ZM342.7 172.1L344.9 174.3L342.7 176.5L340.5 174.3ZM340.6 178.4L342.8 180.6L340.6 182.8L338.4 180.6ZM339.2 180.4L341.4 182.6L339.2 184.8L337.0 182.6ZM337.2 186.0L339.4 188.2L337.2 190.4L335.0 188.2ZM339.9 186.7L342.1 188.9L339.9 191.1L337.7 188.9ZM344.8 185.3L347.0 187.5L344.8 189.7L342.6 187.5ZM338.5 189.4L340.7 191.6L338.5 193.8L336.3 191.6ZM342.0 190.1L344.2 192.3L342.0 194.5L339.8 192.3ZM345.5 188.7L347.7 190.9L345.5 193.1L343.3 190.9ZM341.5 187.3L343.7 189.5L341.5 191.7L339.3 189.5ZM340.6 209.9L342.8 212.1L340.6 214.3L338.4 212.1ZM344.8 208.8L347.0 211.0L344.8 213.2L342.6 211.0ZM341.3 224.0L343.5 226.2L341.3 228.4L339.1 226.2ZM341.6 62.8L343.8 65.0L341.6 67.2L339.4 65.0Z" fill="#50b4a3" fill-opacity="0.68" stroke="#50b4a3" stroke-opacity="0.68" stroke-width="0.5"/>
<path d="M329.09 121.40V154.70M329.09 191.50V226.00M325.69 121.40H332.49M325.69 226.00H332.49" stroke="#333" stroke-width="1.0" fill="none"/>
<rect x="324.29" y="154.70" width="9.60" height="36.80" fill="#96d2c8" stroke="#000" stroke-opacity="0.82" stroke-width="1.0"/>
<path d="M324.29 186.90H333.89" stroke="#000" stroke-opacity="0.85" stroke-width="1.4"/>
<rect x="327.29" y="171.50" width="3.6" height="3.6" fill="#ffffff" fill-opacity="0.2" stroke="#000" stroke-opacity="0.62" stroke-width="0.8"/>
<path d="M329.1 62.8L331.3 65.0L329.1 67.2L326.9 65.0Z" fill="#50b4a3" fill-opacity="0.68" stroke="#50b4a3" stroke-opacity="0.68" stroke-width="0.5"/>
<polyline points="369.48,46.50 369.49,50.56 369.49,54.62 369.50,58.67 369.52,62.73 369.54,66.79 369.57,70.85 369.60,74.91 369.65,78.97 369.71,83.03 369.79,87.08 369.88,91.14 370.00,95.20 370.14,99.26 370.31,103.32 370.51,107.38 370.73,111.43 370.99,115.49 371.27,119.55 371.58,123.61 371.90,127.67 372.24,131.72 372.58,135.78 372.91,139.84 373.23,143.90 373.52,147.96 373.77,152.02 373.98,156.07 374.14,160.13 374.24,164.19 374.27,168.25 374.24,172.31 374.14,176.37 373.98,180.43 373.77,184.48 373.52,188.54 373.23,192.60 372.91,196.66 372.58,200.72 372.24,204.78 371.90,208.83 371.58,212.89 371.27,216.95 370.99,221.01 370.73,225.07 370.51,229.12 370.31,233.18 370.14,237.24 370.00,241.30 369.88,245.36 369.79,249.42 369.71,253.47 369.65,257.53 369.60,261.59 369.57,265.65 369.54,269.71 369.52,273.77 369.50,277.82 369.49,281.88 369.49,285.94 369.48,290.00" fill="none" stroke="#4682c2" stroke-width="1.15" stroke-opacity="0.72"/>
<path d="M366.9 113.1L369.1 115.3L366.9 117.5L364.7 115.3ZM370.0 115.0L372.2 117.2L370.0 119.4L367.8 117.2ZM369.0 133.8L371.2 136.0L369.0 138.2L366.8 136.0ZM367.8 135.2L370.0 137.4L367.8 139.6L365.6 137.4ZM371.7 145.4L373.9 147.6L371.7 149.8L369.5 147.6ZM371.7 158.3L373.9 160.5L371.7 162.7L369.5 160.5ZM369.0 169.4L371.2 171.6L369.0 173.8L366.8 171.6ZM371.0 168.0L373.2 170.2L371.0 172.4L368.8 170.2ZM368.3 178.4L370.5 180.6L368.3 182.8L366.1 180.6ZM366.2 181.8L368.4 184.0L366.2 186.2L364.0 184.0ZM369.6 182.5L371.8 184.7L369.6 186.9L367.4 184.7ZM368.3 186.0L370.5 188.2L368.3 190.4L366.1 188.2ZM372.4 184.6L374.6 186.8L372.4 189.0L370.2 186.8ZM373.8 187.3L376.0 189.5L373.8 191.7L371.6 189.5ZM371.0 188.0L373.2 190.2L371.0 192.4L368.8 190.2ZM365.5 192.9L367.7 195.1L365.5 197.3L363.3 195.1ZM364.8 193.3L367.0 195.5L364.8 197.7L362.6 195.5ZM368.3 207.8L370.5 210.0L368.3 212.2L366.1 210.0ZM373.1 208.5L375.3 210.7L373.1 212.9L370.9 210.7ZM370.3 215.4L372.5 217.6L370.3 219.8L368.1 217.6ZM369.5 62.3L371.7 64.5L369.5 66.7L367.3 64.5Z" fill="#2f77be" fill-opacity="0.68" stroke="#2f77be" stroke-opacity="0.68" stroke-width="0.5"/>
<path d="M357.03 115.30V147.50M357.03 188.80V218.00M353.63 115.30H360.43M353.63 218.00H360.43" stroke="#333" stroke-width="1.0" fill="none"/>
<rect x="352.23" y="147.50" width="9.60" height="41.30" fill="#7daad7" stroke="#000" stroke-opacity="0.82" stroke-width="1.0"/>
<path d="M352.23 181.30H361.83" stroke="#000" stroke-opacity="0.85" stroke-width="1.4"/>
<rect x="355.23" y="166.50" width="3.6" height="3.6" fill="#ffffff" fill-opacity="0.2" stroke="#000" stroke-opacity="0.62" stroke-width="0.8"/>
<path d="M357.0 62.3L359.2 64.5L357.0 66.7L354.8 64.5Z" fill="#2f77be" fill-opacity="0.68" stroke="#2f77be" stroke-opacity="0.68" stroke-width="0.5"/>
<polyline points="397.40,40.20 397.41,44.27 397.41,48.34 397.42,52.42 397.44,56.49 397.46,60.56 397.49,64.63 397.52,68.70 397.57,72.77 397.63,76.84 397.71,80.92 397.80,84.99 397.92,89.06 398.06,93.13 398.23,97.20 398.43,101.28 398.65,105.35 398.91,109.42 399.19,113.49 399.50,117.56 399.82,121.63 400.16,125.71 400.50,129.78 400.83,133.85 401.15,137.92 401.44,141.99 401.69,146.06 401.90,150.13 402.06,154.21 402.16,158.28 402.19,162.35 402.16,166.42 402.06,170.49 401.90,174.56 401.69,178.64 401.44,182.71 401.15,186.78 400.83,190.85 400.50,194.92 400.16,199.00 399.82,203.07 399.50,207.14 399.19,211.21 398.91,215.28 398.65,219.35 398.43,223.43 398.23,227.50 398.06,231.57 397.92,235.64 397.80,239.71 397.71,243.78 397.63,247.86 397.57,251.93 397.52,256.00 397.49,260.07 397.46,264.14 397.44,268.21 397.42,272.29 397.41,276.36 397.41,280.43 397.40,284.50" fill="none" stroke="#d44a68" stroke-width="1.15" stroke-opacity="0.72"/>
<path d="M397.0 106.6L399.2 108.8L397.0 111.0L394.8 108.8ZM398.0 108.7L400.2 110.9L398.0 113.1L395.8 110.9ZM396.3 124.3L398.5 126.5L396.3 128.7L394.1 126.5ZM397.0 128.0L399.2 130.2L397.0 132.4L394.8 130.2ZM398.0 136.7L400.2 138.9L398.0 141.1L395.8 138.9ZM394.2 151.6L396.4 153.8L394.2 156.0L392.0 153.8ZM396.3 159.2L398.5 161.4L396.3 163.6L394.1 161.4ZM397.0 167.5L399.2 169.7L397.0 171.9L394.8 169.7ZM401.1 166.8L403.3 169.0L401.1 171.2L398.9 169.0ZM398.0 173.0L400.2 175.2L398.0 177.4L395.8 175.2ZM401.8 176.9L404.0 179.1L401.8 181.3L399.6 179.1ZM393.5 179.3L395.7 181.5L393.5 183.7L391.3 181.5ZM396.3 181.3L398.5 183.5L396.3 185.7L394.1 183.5ZM399.1 179.3L401.3 181.5L399.1 183.7L396.9 181.5ZM401.8 177.9L404.0 180.1L401.8 182.3L399.6 180.1ZM398.4 182.7L400.6 184.9L398.4 187.1L396.2 184.9ZM397.0 182.5L399.2 184.7L397.0 186.9L394.8 184.7ZM395.6 202.5L397.8 204.7L395.6 206.9L393.4 204.7ZM398.4 208.0L400.6 210.2L398.4 212.4L396.2 210.2ZM397.4 57.8L399.6 60.0L397.4 62.2L395.2 60.0Z" fill="#cf3050" fill-opacity="0.68" stroke="#cf3050" stroke-opacity="0.68" stroke-width="0.5"/>
<path d="M384.97 108.40V139.50M384.97 183.30V209.50M381.57 108.40H388.37M381.57 209.50H388.37" stroke="#333" stroke-width="1.0" fill="none"/>
<rect x="380.17" y="139.50" width="9.60" height="43.80" fill="#de7a8a" stroke="#000" stroke-opacity="0.82" stroke-width="1.0"/>
<path d="M380.17 174.80H389.77" stroke="#000" stroke-opacity="0.85" stroke-width="1.4"/>
<rect x="383.17" y="160.60" width="3.6" height="3.6" fill="#ffffff" fill-opacity="0.2" stroke="#000" stroke-opacity="0.62" stroke-width="0.8"/>
<path d="M385.0 57.8L387.2 60.0L385.0 62.2L382.8 60.0Z" fill="#cf3050" fill-opacity="0.68" stroke="#cf3050" stroke-opacity="0.68" stroke-width="0.5"/>
<polyline points="425.32,26.20 425.33,30.54 425.33,34.87 425.34,39.21 425.36,43.55 425.38,47.88 425.41,52.22 425.44,56.56 425.49,60.89 425.55,65.23 425.63,69.57 425.72,73.90 425.84,78.24 425.98,82.58 426.15,86.91 426.35,91.25 426.57,95.59 426.83,99.92 427.11,104.26 427.42,108.60 427.74,112.93 428.08,117.27 428.42,121.61 428.75,125.94 429.07,130.28 429.36,134.62 429.61,138.95 429.82,143.29 429.98,147.63 430.08,151.96 430.11,156.30 430.08,160.64 429.98,164.97 429.82,169.31 429.61,173.65 429.36,177.98 429.07,182.32 428.75,186.66 428.42,190.99 428.08,195.33 427.74,199.67 427.42,204.00 427.11,208.34 426.83,212.68 426.57,217.01 426.35,221.35 426.15,225.69 425.98,230.02 425.84,234.36 425.72,238.70 425.63,243.03 425.55,247.37 425.49,251.71 425.44,256.04 425.41,260.38 425.38,264.72 425.36,269.05 425.34,273.39 425.33,277.73 425.33,282.06 425.32,286.40" fill="none" stroke="#ec6c50" stroke-width="1.15" stroke-opacity="0.72"/>
<path d="M425.3 96.3L427.5 98.5L425.3 100.7L423.1 98.5ZM424.6 99.0L426.8 101.2L424.6 103.4L422.4 101.2ZM424.6 122.5L426.8 124.7L424.6 126.9L422.4 124.7ZM425.6 132.2L427.8 134.4L425.6 136.6L423.4 134.4ZM428.8 150.2L431.0 152.4L428.8 154.6L426.6 152.4ZM426.7 155.8L428.9 158.0L426.7 160.2L424.5 158.0ZM426.0 159.2L428.2 161.4L426.0 163.6L423.8 161.4ZM421.9 163.4L424.1 165.6L421.9 167.8L419.7 165.6ZM425.3 167.5L427.5 169.7L425.3 171.9L423.1 169.7ZM429.5 171.0L431.7 173.2L429.5 175.4L427.3 173.2ZM423.2 175.1L425.4 177.3L423.2 179.5L421.0 177.3ZM421.9 177.2L424.1 179.4L421.9 181.6L419.7 179.4ZM424.6 175.8L426.8 178.0L424.6 180.2L422.4 178.0ZM428.1 175.8L430.3 178.0L428.1 180.2L425.9 178.0ZM423.9 178.3L426.1 180.5L423.9 182.7L421.7 180.5ZM423.9 184.7L426.1 186.9L423.9 189.1L421.7 186.9ZM426.7 194.2L428.9 196.4L426.7 198.6L424.5 196.4ZM426.0 197.0L428.2 199.2L426.0 201.4L423.8 199.2ZM424.6 201.1L426.8 203.3L424.6 205.5L422.4 203.3ZM425.3 39.8L427.5 42.0L425.3 44.2L423.1 42.0Z" fill="#ee613f" fill-opacity="0.68" stroke="#ee613f" stroke-opacity="0.68" stroke-width="0.5"/>
<path d="M412.91 98.70V134.70M412.91 179.30V202.80M409.51 98.70H416.31M409.51 202.80H416.31" stroke="#333" stroke-width="1.0" fill="none"/>
<rect x="408.11" y="134.70" width="9.60" height="44.60" fill="#f5a08c" stroke="#000" stroke-opacity="0.82" stroke-width="1.0"/>
<path d="M408.11 170.50H417.71" stroke="#000" stroke-opacity="0.85" stroke-width="1.4"/>
<rect x="411.11" y="154.70" width="3.6" height="3.6" fill="#ffffff" fill-opacity="0.2" stroke="#000" stroke-opacity="0.62" stroke-width="0.8"/>
<path d="M412.9 39.8L415.1 42.0L412.9 44.2L410.7 42.0Z" fill="#ee613f" fill-opacity="0.68" stroke="#ee613f" stroke-opacity="0.68" stroke-width="0.5"/>
<polyline points="453.24,35.70 453.25,39.59 453.25,43.47 453.26,47.36 453.28,51.25 453.30,55.13 453.33,59.02 453.36,62.91 453.41,66.79 453.47,70.68 453.55,74.57 453.64,78.45 453.76,82.34 453.90,86.23 454.07,90.11 454.27,94.00 454.49,97.89 454.75,101.77 455.03,105.66 455.34,109.55 455.66,113.43 456.00,117.32 456.34,121.21 456.67,125.09 456.99,128.98 457.28,132.87 457.53,136.75 457.74,140.64 457.90,144.53 458.00,148.41 458.03,152.30 458.00,156.19 457.90,160.07 457.74,163.96 457.53,167.85 457.28,171.73 456.99,175.62 456.67,179.51 456.34,183.39 456.00,187.28 455.66,191.17 455.34,195.05 455.03,198.94 454.75,202.83 454.49,206.71 454.27,210.60 454.07,214.49 453.90,218.37 453.76,222.26 453.64,226.15 453.55,230.03 453.47,233.92 453.41,237.81 453.36,241.69 453.33,245.58 453.30,249.47 453.28,253.35 453.26,257.24 453.25,261.13 453.25,265.01 453.24,268.90" fill="none" stroke="#f49a5a" stroke-width="1.15" stroke-opacity="0.72"/>
<path d="M454.0 99.0L456.2 101.2L454.0 103.4L451.8 101.2ZM454.6 105.9L456.8 108.1L454.6 110.3L452.4 108.1ZM452.3 110.8L454.5 113.0L452.3 115.2L450.1 113.0ZM453.6 125.3L455.8 127.5L453.6 129.7L451.4 127.5ZM452.3 130.4L454.5 132.6L452.3 134.8L450.1 132.6ZM451.8 139.1L454.0 141.3L451.8 143.5L449.6 141.3ZM455.0 145.4L457.2 147.6L455.0 149.8L452.8 147.6ZM454.3 150.9L456.5 153.1L454.3 155.3L452.1 153.1ZM456.4 153.0L458.6 155.2L456.4 157.4L454.2 155.2ZM450.2 159.2L452.4 161.4L450.2 163.6L448.0 161.4ZM452.9 163.4L455.1 165.6L452.9 167.8L450.7 165.6ZM454.3 168.2L456.5 170.4L454.3 172.6L452.1 170.4ZM457.1 168.9L459.3 171.1L457.1 173.3L454.9 171.1ZM450.9 172.3L453.1 174.5L450.9 176.7L448.7 174.5ZM453.6 173.7L455.8 175.9L453.6 178.1L451.4 175.9ZM457.8 175.8L460.0 178.0L457.8 180.2L455.6 178.0ZM451.6 175.6L453.8 177.8L451.6 180.0L449.4 177.8ZM448.8 180.8L451.0 183.0L448.8 185.2L446.6 183.0ZM452.9 188.0L455.1 190.2L452.9 192.4L450.7 190.2ZM454.3 190.8L456.5 193.0L454.3 195.2L452.1 193.0ZM452.3 196.3L454.5 198.5L452.3 200.7L450.1 198.5ZM453.2 52.8L455.4 55.0L453.2 57.2L451.0 55.0Z" fill="#f79348" fill-opacity="0.68" stroke="#f79348" stroke-opacity="0.68" stroke-width="0.5"/>
<path d="M440.85 101.60V133.60M440.85 178.50V198.30M437.45 101.60H444.25M437.45 198.30H444.25" stroke="#333" stroke-width="1.0" fill="none"/>
<rect x="436.05" y="133.60" width="9.60" height="44.90" fill="#fabe91" stroke="#000" stroke-opacity="0.82" stroke-width="1.0"/>
<path d="M436.05 161.50H445.65" stroke="#000" stroke-opacity="0.85" stroke-width="1.4"/>
<rect x="439.05" y="150.70" width="3.6" height="3.6" fill="#ffffff" fill-opacity="0.2" stroke="#000" stroke-opacity="0.62" stroke-width="0.8"/>
<path d="M440.9 52.8L443.1 55.0L440.9 57.2L438.7 55.0Z" fill="#f79348" fill-opacity="0.68" stroke="#f79348" stroke-opacity="0.68" stroke-width="0.5"/>
<polyline points="481.16,30.30 481.17,34.25 481.17,38.21 481.18,42.16 481.20,46.11 481.22,50.07 481.25,54.02 481.28,57.97 481.33,61.93 481.39,65.88 481.47,69.83 481.56,73.79 481.68,77.74 481.82,81.69 481.99,85.65 482.19,89.60 482.41,93.55 482.67,97.51 482.95,101.46 483.26,105.41 483.58,109.37 483.92,113.32 484.26,117.27 484.59,121.23 484.91,125.18 485.20,129.13 485.45,133.09 485.66,137.04 485.82,140.99 485.92,144.95 485.95,148.90 485.92,152.85 485.82,156.81 485.66,160.76 485.45,164.71 485.20,168.67 484.91,172.62 484.59,176.57 484.26,180.53 483.92,184.48 483.58,188.43 483.26,192.39 482.95,196.34 482.67,200.29 482.41,204.25 482.19,208.20 481.99,212.15 481.82,216.11 481.68,220.06 481.56,224.01 481.47,227.97 481.39,231.92 481.33,235.87 481.28,239.83 481.25,243.78 481.22,247.73 481.20,251.69 481.18,255.64 481.17,259.59 481.17,263.55 481.16,267.50" fill="none" stroke="#8cd0b4" stroke-width="1.15" stroke-opacity="0.72"/>
<path d="M481.7 98.2L483.9 100.4L481.7 102.6L479.5 100.4ZM480.4 104.1L482.6 106.3L480.4 108.5L478.2 106.3ZM481.1 120.7L483.3 122.9L481.1 125.1L478.9 122.9ZM480.4 125.8L482.6 128.0L480.4 130.2L478.2 128.0ZM481.7 145.8L483.9 148.0L481.7 150.2L479.5 148.0ZM479.7 148.5L481.9 150.7L479.7 152.9L477.5 150.7ZM479.0 150.6L481.2 152.8L479.0 155.0L476.8 152.8ZM481.1 156.8L483.3 159.0L481.1 161.2L478.9 159.0ZM483.8 157.5L486.0 159.7L483.8 161.9L481.6 159.7ZM477.6 163.7L479.8 165.9L477.6 168.1L475.4 165.9ZM481.7 162.3L483.9 164.5L481.7 166.7L479.5 164.5ZM479.7 165.8L481.9 168.0L479.7 170.2L477.5 168.0ZM483.8 165.8L486.0 168.0L483.8 170.2L481.6 168.0ZM483.8 167.6L486.0 169.8L483.8 172.0L481.6 169.8ZM478.3 170.1L480.5 172.3L478.3 174.5L476.1 172.3ZM482.4 172.0L484.6 174.2L482.4 176.4L480.2 174.2ZM483.1 172.5L485.3 174.7L483.1 176.9L480.9 174.7ZM485.2 179.4L487.4 181.6L485.2 183.8L483.0 181.6ZM482.4 181.5L484.6 183.7L482.4 185.9L480.2 183.7ZM480.4 183.5L482.6 185.7L480.4 187.9L478.2 185.7ZM481.7 188.4L483.9 190.6L481.7 192.8L479.5 190.6ZM481.2 42.5L483.4 44.7L481.2 46.9L479.0 44.7Z" fill="#82cdac" fill-opacity="0.68" stroke="#82cdac" stroke-opacity="0.68" stroke-width="0.5"/>
<path d="M468.79 100.50V128.30M468.79 173.30V190.40M465.39 100.50H472.19M465.39 190.40H472.19" stroke="#333" stroke-width="1.0" fill="none"/>
<rect x="463.99" y="128.30" width="9.60" height="45.00" fill="#b4e1cd" stroke="#000" stroke-opacity="0.82" stroke-width="1.0"/>
<path d="M463.99 158.90H473.59" stroke="#000" stroke-opacity="0.85" stroke-width="1.4"/>
<rect x="466.99" y="147.20" width="3.6" height="3.6" fill="#ffffff" fill-opacity="0.2" stroke="#000" stroke-opacity="0.62" stroke-width="0.8"/>
<path d="M468.8 42.5L471.0 44.7L468.8 46.9L466.6 44.7Z" fill="#82cdac" fill-opacity="0.68" stroke="#82cdac" stroke-opacity="0.68" stroke-width="0.5"/>
<polyline points="509.08,29.00 509.09,32.92 509.09,36.85 509.10,40.77 509.12,44.70 509.14,48.62 509.17,52.55 509.20,56.48 509.25,60.40 509.31,64.33 509.39,68.25 509.48,72.17 509.60,76.10 509.74,80.03 509.91,83.95 510.11,87.88 510.33,91.80 510.59,95.72 510.87,99.65 511.18,103.58 511.50,107.50 511.84,111.42 512.18,115.35 512.51,119.28 512.83,123.20 513.12,127.12 513.37,131.05 513.58,134.97 513.74,138.90 513.84,142.82 513.87,146.75 513.84,150.68 513.74,154.60 513.58,158.53 513.37,162.45 513.12,166.38 512.83,170.30 512.51,174.22 512.18,178.15 511.84,182.07 511.50,186.00 511.18,189.93 510.87,193.85 510.59,197.78 510.33,201.70 510.11,205.62 509.91,209.55 509.74,213.47 509.60,217.40 509.48,221.32 509.39,225.25 509.31,229.18 509.25,233.10 509.20,237.03 509.17,240.95 509.14,244.88 509.12,248.80 509.10,252.72 509.09,256.65 509.09,260.57 509.08,264.50" fill="none" stroke="#5ab6a8" stroke-width="1.15" stroke-opacity="0.72"/>
<path d="M509.4 93.1L511.6 95.3L509.4 97.5L507.2 95.3ZM510.1 98.2L512.3 100.4L510.1 102.6L507.9 100.4ZM508.0 108.5L510.2 110.7L508.0 112.9L505.8 110.7ZM510.1 116.8L512.3 119.0L510.1 121.2L507.9 119.0ZM508.7 145.1L510.9 147.3L508.7 149.5L506.5 147.3ZM506.6 152.0L508.8 154.2L506.6 156.4L504.4 154.2ZM510.1 154.1L512.3 156.3L510.1 158.5L507.9 156.3ZM509.4 158.9L511.6 161.1L509.4 163.3L507.2 161.1ZM504.5 161.7L506.7 163.9L504.5 166.1L502.3 163.9ZM507.3 163.7L509.5 165.9L507.3 168.1L505.1 165.9ZM511.5 163.7L513.7 165.9L511.5 168.1L509.3 165.9ZM505.9 167.9L508.1 170.1L505.9 172.3L503.7 170.1ZM506.6 169.3L508.8 171.5L506.6 173.7L504.4 171.5ZM505.2 167.6L507.4 169.8L505.2 172.0L503.0 169.8ZM507.3 170.4L509.5 172.6L507.3 174.8L505.1 172.6ZM511.5 177.1L513.7 179.3L511.5 181.5L509.3 179.3ZM513.5 178.0L515.7 180.2L513.5 182.4L511.3 180.2ZM509.4 184.2L511.6 186.4L509.4 188.6L507.2 186.4ZM509.1 40.9L511.3 43.1L509.1 45.3L506.9 43.1Z" fill="#50b4a3" fill-opacity="0.68" stroke="#50b4a3" stroke-opacity="0.68" stroke-width="0.5"/>
<path d="M496.73 94.90V119.50M496.73 170.10V186.70M493.33 94.90H500.13M493.33 186.70H500.13" stroke="#333" stroke-width="1.0" fill="none"/>
<rect x="491.93" y="119.50" width="9.60" height="50.60" fill="#96d2c8" stroke="#000" stroke-opacity="0.82" stroke-width="1.0"/>
<path d="M491.93 157.10H501.53" stroke="#000" stroke-opacity="0.85" stroke-width="1.4"/>
<rect x="494.93" y="144.90" width="3.6" height="3.6" fill="#ffffff" fill-opacity="0.2" stroke="#000" stroke-opacity="0.62" stroke-width="0.8"/>
<path d="M496.7 40.9L498.9 43.1L496.7 45.3L494.5 43.1Z" fill="#50b4a3" fill-opacity="0.68" stroke="#50b4a3" stroke-opacity="0.68" stroke-width="0.5"/>
<polyline points="537.00,27.40 537.01,31.22 537.01,35.04 537.02,38.85 537.04,42.67 537.06,46.49 537.09,50.31 537.12,54.13 537.17,57.95 537.23,61.77 537.31,65.58 537.40,69.40 537.52,73.22 537.66,77.04 537.83,80.86 538.03,84.67 538.25,88.49 538.51,92.31 538.79,96.13 539.10,99.95 539.42,103.77 539.76,107.58 540.10,111.40 540.43,115.22 540.75,119.04 541.04,122.86 541.29,126.68 541.50,130.50 541.66,134.31 541.76,138.13 541.79,141.95 541.76,145.77 541.66,149.59 541.50,153.41 541.29,157.22 541.04,161.04 540.75,164.86 540.43,168.68 540.10,172.50 539.76,176.31 539.42,180.13 539.10,183.95 538.79,187.77 538.51,191.59 538.25,195.41 538.03,199.22 537.83,203.04 537.66,206.86 537.52,210.68 537.40,214.50 537.31,218.32 537.23,222.14 537.17,225.95 537.12,229.77 537.09,233.59 537.06,237.41 537.04,241.23 537.02,245.04 537.01,248.86 537.01,252.68 537.00,256.50" fill="none" stroke="#4682c2" stroke-width="1.15" stroke-opacity="0.72"/>
<path d="M537.0 48.3L539.2 50.5L537.0 52.7L534.8 50.5ZM537.5 87.6L539.7 89.8L537.5 92.0L535.3 89.8ZM536.0 96.4L538.2 98.6L536.0 100.8L533.8 98.6ZM537.7 97.5L539.9 99.7L537.7 101.9L535.5 99.7ZM538.4 108.5L540.6 110.7L538.4 112.9L536.2 110.7ZM537.7 110.6L539.9 112.8L537.7 115.0L535.5 112.8ZM537.7 133.2L539.9 135.4L537.7 137.6L535.5 135.4ZM537.0 139.5L539.2 141.7L537.0 143.9L534.8 141.7ZM535.0 149.9L537.2 152.1L535.0 154.3L532.8 152.1ZM537.0 150.6L539.2 152.8L537.0 155.0L534.8 152.8ZM537.7 156.1L539.9 158.3L537.7 160.5L535.5 158.3ZM534.3 158.9L536.5 161.1L534.3 163.3L532.1 161.1ZM539.8 161.0L542.0 163.2L539.8 165.4L537.6 163.2ZM532.9 164.4L535.1 166.6L532.9 168.8L530.7 166.6ZM536.3 164.4L538.5 166.6L536.3 168.8L534.1 166.6ZM538.4 167.9L540.6 170.1L538.4 172.3L536.2 170.1ZM535.6 169.9L537.8 172.1L535.6 174.3L533.4 172.1ZM540.5 172.0L542.7 174.2L540.5 176.4L538.3 174.2ZM533.6 165.6L535.8 167.8L533.6 170.0L531.4 167.8ZM539.1 168.3L541.3 170.5L539.1 172.7L536.9 170.5ZM541.2 173.2L543.4 175.4L541.2 177.6L539.0 175.4ZM535.6 177.3L537.8 179.5L535.6 181.7L533.4 179.5Z" fill="#2f77be" fill-opacity="0.68" stroke="#2f77be" stroke-opacity="0.68" stroke-width="0.5"/>
<path d="M524.67 50.30V113.60M524.67 168.30V180.00M521.27 50.30H528.07M521.27 180.00H528.07" stroke="#333" stroke-width="1.0" fill="none"/>
<rect x="519.87" y="113.60" width="9.60" height="54.70" fill="#7daad7" stroke="#000" stroke-opacity="0.82" stroke-width="1.0"/>
<path d="M519.87 153.60H529.47" stroke="#000" stroke-opacity="0.85" stroke-width="1.4"/>
<rect x="522.87" y="140.10" width="3.6" height="3.6" fill="#ffffff" fill-opacity="0.2" stroke="#000" stroke-opacity="0.62" stroke-width="0.8"/>
<rect x="42.3" y="8.5" width="503.1" height="335.9" fill="none" stroke="#111" stroke-width="1.15"/>
<path d="M40.4 341.47H42.3M40.4 334.38H42.3M38.6 327.30H42.3M40.4 320.22H42.3M40.4 313.13H42.3M40.4 306.05H42.3M40.4 298.96H42.3M38.6 291.88H42.3M40.4 284.80H42.3M40.4 277.71H42.3M40.4 270.63H42.3M40.4 263.54H42.3M38.6 256.46H42.3M40.4 249.38H42.3M40.4 242.29H42.3M40.4 235.21H42.3M40.4 228.12H42.3M38.6 221.04H42.3M40.4 213.96H42.3M40.4 206.87H42.3M40.4 199.79H42.3M40.4 192.70H42.3M38.6 185.62H42.3M40.4 178.54H42.3M40.4 171.45H42.3M40.4 164.37H42.3M40.4 157.28H42.3M38.6 150.20H42.3M40.4 143.12H42.3M40.4 136.03H42.3M40.4 128.95H42.3M40.4 121.86H42.3M38.6 114.78H42.3M40.4 107.70H42.3M40.4 100.61H42.3M40.4 93.53H42.3M40.4 86.44H42.3M38.6 79.36H42.3M40.4 72.28H42.3M40.4 65.19H42.3M40.4 58.11H42.3M40.4 51.02H42.3M38.6 43.94H42.3M40.4 36.86H42.3M40.4 29.77H42.3M40.4 22.69H42.3M40.4 15.60H42.3M38.6 8.52H42.3M56.42 344.4V348.6M84.38 344.4V348.6M112.33 344.4V348.6M140.29 344.4V348.6M168.25 344.4V348.6M196.20 344.4V348.6M224.16 344.4V348.6M252.12 344.4V348.6M280.08 344.4V348.6M308.03 344.4V348.6M335.99 344.4V348.6M363.95 344.4V348.6M391.90 344.4V348.6M419.86 344.4V348.6M447.82 344.4V348.6M475.78 344.4V348.6M503.73 344.4V348.6M531.69 344.4V348.6" stroke="#111" stroke-width="1.1" fill="none"/>
<text x="35.3" y="330.40" text-anchor="end" font-family="Liberation Serif, serif" font-size="12" fill="#5a5a5a">0.0</text>
<text x="35.3" y="294.98" text-anchor="end" font-family="Liberation Serif, serif" font-size="12" fill="#5a5a5a">0.1</text>
<text x="35.3" y="259.56" text-anchor="end" font-family="Liberation Serif, serif" font-size="12" fill="#5a5a5a">0.2</text>
<text x="35.3" y="224.14" text-anchor="end" font-family="Liberation Serif, serif" font-size="12" fill="#5a5a5a">0.3</text>
<text x="35.3" y="188.72" text-anchor="end" font-family="Liberation Serif, serif" font-size="12" fill="#5a5a5a">0.4</text>
<text x="35.3" y="153.30" text-anchor="end" font-family="Liberation Serif, serif" font-size="12" fill="#5a5a5a">0.5</text>
<text x="35.3" y="117.88" text-anchor="end" font-family="Liberation Serif, serif" font-size="12" fill="#5a5a5a">0.6</text>
<text x="35.3" y="82.46" text-anchor="end" font-family="Liberation Serif, serif" font-size="12" fill="#5a5a5a">0.7</text>
<text x="35.3" y="47.04" text-anchor="end" font-family="Liberation Serif, serif" font-size="12" fill="#5a5a5a">0.8</text>
<text x="35.3" y="11.62" text-anchor="end" font-family="Liberation Serif, serif" font-size="12" fill="#5a5a5a">0.9</text>
<text transform="translate(60.52,350.6) rotate(-90)" text-anchor="end" font-family="Liberation Serif, serif" font-size="12" fill="#2a2a2a">2000</text>
<text transform="translate(88.48,350.6) rotate(-90)" text-anchor="end" font-family="Liberation Serif, serif" font-size="12" fill="#2a2a2a">2001</text>
<text transform="translate(116.43,350.6) rotate(-90)" text-anchor="end" font-family="Liberation Serif, serif" font-size="12" fill="#2a2a2a">2002</text>
<text transform="translate(144.39,350.6) rotate(-90)" text-anchor="end" font-family="Liberation Serif, serif" font-size="12" fill="#2a2a2a">2003</text>
<text transform="translate(172.35,350.6) rotate(-90)" text-anchor="end" font-family="Liberation Serif, serif" font-size="12" fill="#2a2a2a">2004</text>
<text transform="translate(200.30,350.6) rotate(-90)" text-anchor="end" font-family="Liberation Serif, serif" font-size="12" fill="#2a2a2a">2005</text>
<text transform="translate(228.26,350.6) rotate(-90)" text-anchor="end" font-family="Liberation Serif, serif" font-size="12" fill="#2a2a2a">2006</text>
<text transform="translate(256.22,350.6) rotate(-90)" text-anchor="end" font-family="Liberation Serif, serif" font-size="12" fill="#2a2a2a">2007</text>
<text transform="translate(284.18,350.6) rotate(-90)" text-anchor="end" font-family="Liberation Serif, serif" font-size="12" fill="#2a2a2a">2008</text>
<text transform="translate(312.13,350.6) rotate(-90)" text-anchor="end" font-family="Liberation Serif, serif" font-size="12" fill="#2a2a2a">2009</text>
<text transform="translate(340.09,350.6) rotate(-90)" text-anchor="end" font-family="Liberation Serif, serif" font-size="12" fill="#2a2a2a">2010</text>
<text transform="translate(368.05,350.6) rotate(-90)" text-anchor="end" font-family="Liberation Serif, serif" font-size="12" fill="#2a2a2a">2011</text>
<text transform="translate(396.00,350.6) rotate(-90)" text-anchor="end" font-family="Liberation Serif, serif" font-size="12" fill="#2a2a2a">2012</text>
<text transform="translate(423.96,350.6) rotate(-90)" text-anchor="end" font-family="Liberation Serif, serif" font-size="12" fill="#2a2a2a">2013</text>
<text transform="translate(451.92,350.6) rotate(-90)" text-anchor="end" font-family="Liberation Serif, serif" font-size="12" fill="#2a2a2a">2014</text>
<text transform="translate(479.88,350.6) rotate(-90)" text-anchor="end" font-family="Liberation Serif, serif" font-size="12" fill="#2a2a2a">2015</text>
<text transform="translate(507.83,350.6) rotate(-90)" text-anchor="end" font-family="Liberation Serif, serif" font-size="12" fill="#2a2a2a">2016</text>
<text transform="translate(535.79,350.6) rotate(-90)" text-anchor="end" font-family="Liberation Serif, serif" font-size="12" fill="#2a2a2a">2017</text>
<text transform="translate(15.2,176.3) rotate(-90)" text-anchor="middle" font-family="Liberation Serif, serif" font-size="14.8" fill="#1a1a1a">Coupling coordination degree</text>
</svg></body></html>
